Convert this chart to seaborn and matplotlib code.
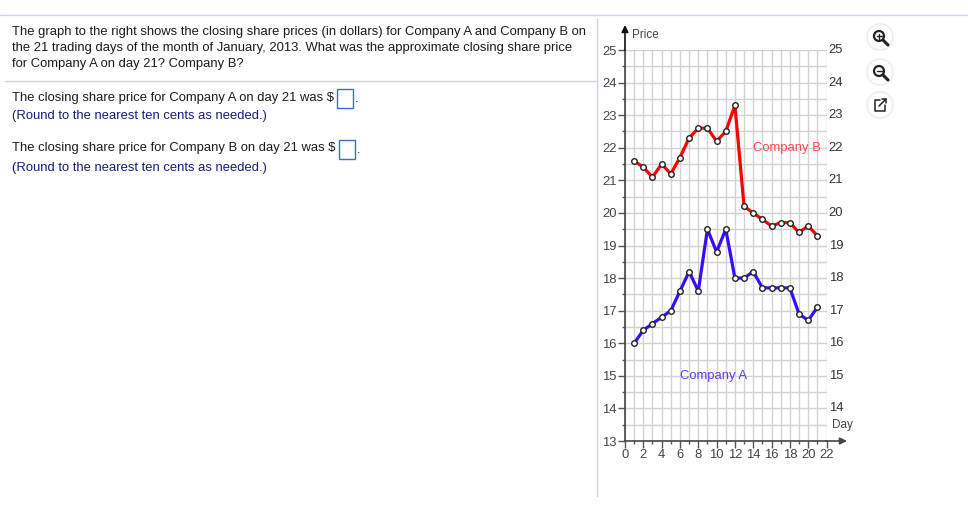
import pandas as pd
import seaborn as sns
import matplotlib
matplotlib.use("Agg")
import matplotlib.pyplot as plt
from matplotlib.patches import Circle, Rectangle

days = list(range(1, 22))
company_a = [16.0, 16.4, 16.6, 16.8, 17.0, 17.6, 18.2, 17.6, 19.5, 18.8, 19.5,
             18.0, 18.0, 18.2, 17.7, 17.7, 17.7, 17.7, 16.9, 16.7, 17.1]
company_b = [21.6, 21.4, 21.1, 21.5, 21.2, 21.7, 22.3, 22.6, 22.6, 22.2, 22.5,
             23.3, 20.2, 20.0, 19.8, 19.6, 19.7, 19.7, 19.4, 19.6, 19.3]
x_ticks = list(range(0, 23, 2))
y_ticks = list(range(13, 26))

question = [
    "The graph to the right shows the closing share prices (in dollars) for Company A and Company B on",
    "the 21 trading days of the month of January, 2013. What was the approximate closing share price",
    "for Company A on day 21? Company B?",
]
answer_a = "The closing share price for Company A on day 21 was $"
answer_b = "The closing share price for Company B on day 21 was $"
round_note = "(Round to the nearest ten cents as needed.)"

W, H = 968, 516
FS = 9.35
sns.set_style("white")
plt.rcParams["font.family"] = ["Liberation Sans", "DejaVu Sans"]

fig = plt.figure(figsize=(W / 100, H / 100), dpi=100, facecolor="white")

# page layer in pixel coordinates
page = fig.add_axes([0, 0, 1, 1])
page.set_xlim(0, W)
page.set_ylim(H, 0)
page.axis("off")

page.plot([0, W], [14.5, 14.5], color="#ccd3e6", lw=1)
page.plot([596.5, 596.5], [19, 496], color="#ccd3e6", lw=1)
page.plot([5, 596], [80.5, 80.5], color="#d2d2da", lw=1)

for text, y in zip(question, [32.5, 48.5, 64.5]):
    page.text(12, y, text, fontsize=FS, color="#1c1c1c", va="center")

page.text(12, 97.5, answer_a, fontsize=FS, color="#1c1c1c", va="center")
page.text(12, 116.5, round_note, fontsize=FS, color="#1a1a80", va="center")
page.text(12, 148.5, answer_b, fontsize=FS, color="#1c1c1c", va="center")
page.text(12, 167.5, round_note, fontsize=FS, color="#1a1a80", va="center")
page.add_patch(Rectangle((336.5, 88.5), 16, 19, fill=False, ec="#3b6fc4", lw=1))
page.add_patch(Rectangle((338.5, 139.5), 16, 19, fill=False, ec="#3b6fc4", lw=1))
page.text(355, 102, ".", fontsize=FS, color="#1c1c1c", va="baseline")
page.text(357, 153, ".", fontsize=FS, color="#1c1c1c", va="baseline")

# zoom and popout buttons
for cy in [37, 72, 105]:
    page.add_patch(Circle((880, cy), 14, fc="#f0f0f0", ec="none"))
    page.add_patch(Circle((880, cy), 12, fc="white", ec="none"))
for cy, sign in [(37, "+"), (72, "-")]:
    page.add_patch(Circle((879, cy - 1), 5, fill=False, ec="#222222", lw=1.6))
    page.plot([883, 888], [cy + 3, cy + 8], color="#222222", lw=2.2)
    page.plot([876.5, 881.5], [cy - 1, cy - 1], color="#222222", lw=1)
    if sign == "+":
        page.plot([879, 879], [cy - 3.5, cy + 1.5], color="#222222", lw=1)
page.plot([880, 875, 875, 885, 885], [100, 100, 111, 111, 105], color="#222222", lw=1.1)
page.plot([879, 886], [106, 99], color="#222222", lw=1.1)
page.plot([882, 886, 886], [99, 99, 103], color="#222222", lw=1.1)

# chart
left, right, top, bottom = 625, 826.5, 50, 441
ax = fig.add_axes([left / W, 1 - bottom / H, (right - left) / W, (bottom - top) / H])
ax.patch.set_alpha(0)

df = pd.DataFrame({"day": days, "a": company_a, "b": company_b})
sns.lineplot(data=df, x="day", y="b", color="#ff0000", lw=2.3, ax=ax, zorder=3,
             marker="o", ms=4, mfc="white", mec="#222222", mew=1)
sns.lineplot(data=df, x="day", y="a", color="#3a0cff", lw=2.3, ax=ax, zorder=3,
             marker="o", ms=4, mfc="white", mec="#222222", mew=1)

ax.set_xlim(0, 22)
ax.set_ylim(13, 25)
ax.set_xlabel("")
ax.set_ylabel("")
ax.set_xticks(x_ticks)
ax.set_yticks(y_ticks)
ax.set_xticks(range(0, 23), minor=True)
ax.set_yticks([v + 0.5 for v in y_ticks[:-1]], minor=True)
ax.grid(True, which="both", color="#d2d2d2", lw=1)
ax.set_axisbelow(True)
ax.tick_params(axis="both", which="major", length=5, width=1, color="#555555",
               labelsize=FS, labelcolor="#444444", pad=1, left=True, bottom=True)
ax.tick_params(axis="both", which="minor", length=2.5, width=1, color="#555555",
               left=True, bottom=True)
for name in ["top", "right"]:
    ax.spines[name].set_visible(False)
for name in ["left", "bottom"]:
    ax.spines[name].set_color("#444444")
    ax.spines[name].set_linewidth(1.2)

for v in y_ticks[1:]:
    ax.text(22.25, v, str(v), fontsize=FS, color="#333333", va="center", ha="left")

ax.annotate("", xy=(625, 516 - 25), xycoords="figure pixels", xytext=(625, 516 - 50),
            textcoords="figure pixels",
            arrowprops=dict(arrowstyle="-|>", color="#111111", lw=1.2, shrinkA=0, shrinkB=0))
ax.annotate("", xy=(847, 516 - 441), xycoords="figure pixels", xytext=(826, 516 - 441),
            textcoords="figure pixels",
            arrowprops=dict(arrowstyle="-|>", color="#444444", lw=1.2, shrinkA=0, shrinkB=0))

page.text(632, 35, "Price", fontsize=8.5, color="#444444", va="center")
page.text(832, 425, "Day", fontsize=8.5, color="#444444", va="center")
ax.text(13.95, 22, "Company B", fontsize=FS, color="#ff4a4a", va="center", ha="left")
ax.text(6.0, 15, "Company A", fontsize=FS, color="#5a3cff", va="center", ha="left")

fig.savefig("out.png", dpi=100)
plt.close(fig)
